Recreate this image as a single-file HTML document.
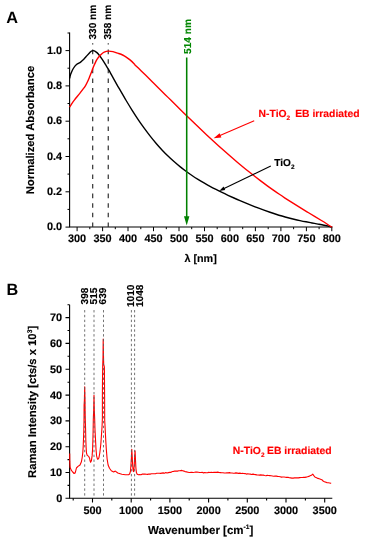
<!DOCTYPE html>
<html lang="en"><head><meta charset="utf-8"><title>Figure</title>
<style>html,body{margin:0;padding:0;background:#fff}body{width:371px;height:550px;overflow:hidden}</style></head>
<body>
<svg width="371" height="550" viewBox="0 0 371 550" style="display:block">
<rect width="371" height="550" fill="#fff"/>
<style>text{stroke-width:.14px;stroke:#000;fill:#000}text.r{fill:#f00;stroke:#f00}text.g{fill:#008600;stroke:#008600}</style>
<g font-family="Liberation Sans, Arial, sans-serif" font-weight="bold" font-size="10.9" text-rendering="geometricPrecision">
<text x="6.3" y="23.0" font-size="16.3" style="stroke:none">A</text>
<text x="6.5" y="294.7" font-size="16.3" style="stroke:none">B</text>
<path d="M69.6,32.4V227.05H332.5" fill="none" stroke="#000" stroke-width="1.1"/>
<path d="M65.5,227.1H69.6M67.5,209.4H69.6M65.5,191.8H69.6M67.5,174.1H69.6M65.5,156.5H69.6M67.5,138.8H69.6M65.5,121.2H69.6M67.5,103.5H69.6M65.5,85.9H69.6M67.5,68.2H69.6M65.5,50.6H69.6M67.5,33.0H69.6M77.1,227.05V231.2M89.8,227.05V229.2M102.6,227.05V231.2M115.3,227.05V229.2M128.0,227.05V231.2M140.8,227.05V229.2M153.5,227.05V231.2M166.3,227.05V229.2M179.0,227.05V231.2M191.7,227.05V229.2M204.5,227.05V231.2M217.2,227.05V229.2M229.9,227.05V231.2M242.7,227.05V229.2M255.4,227.05V231.2M268.2,227.05V229.2M280.9,227.05V231.2M293.6,227.05V229.2M306.4,227.05V231.2M319.1,227.05V229.2M331.8,227.05V231.2" stroke="#000" stroke-width="1.0" fill="none"/>
<text x="62.1" y="230.0" text-anchor="end">0.0</text>
<text x="62.1" y="194.8" text-anchor="end">0.2</text>
<text x="62.1" y="159.6" text-anchor="end">0.4</text>
<text x="62.1" y="124.3" text-anchor="end">0.6</text>
<text x="62.1" y="89.1" text-anchor="end">0.8</text>
<text x="62.1" y="53.9" text-anchor="end">1.0</text>
<text x="77.1" y="241.5" text-anchor="middle">300</text>
<text x="102.6" y="241.5" text-anchor="middle">350</text>
<text x="128.0" y="241.5" text-anchor="middle">400</text>
<text x="153.5" y="241.5" text-anchor="middle">450</text>
<text x="179.0" y="241.5" text-anchor="middle">500</text>
<text x="204.5" y="241.5" text-anchor="middle">550</text>
<text x="229.9" y="241.5" text-anchor="middle">600</text>
<text x="255.4" y="241.5" text-anchor="middle">650</text>
<text x="280.9" y="241.5" text-anchor="middle">700</text>
<text x="306.4" y="241.5" text-anchor="middle">750</text>
<text x="331.8" y="241.5" text-anchor="middle">800</text>
<text transform="translate(33.7,130.0) rotate(-90)" text-anchor="middle" font-size="11.28">Normalized Absorbance</text>
<text x="200.6" y="261.8" text-anchor="middle" font-size="10.8">λ [nm]</text>
<path d="M92.7,43.3V227M108.25,43.3V227" stroke="#2a2a2a" stroke-width="1.15" stroke-dasharray="4.55 5.05" stroke-dashoffset="3.3" fill="none"/>
<text transform="translate(96.4,39.6) rotate(-90)" font-size="10.1">330 nm</text>
<text transform="translate(111.4,39.6) rotate(-90)" font-size="10.1">358 nm</text>
<path d="M69.70,78.30C69.78,77.87 69.95,76.60 70.20,75.70C70.45,74.80 70.68,74.10 71.20,72.90C71.72,71.70 72.42,69.90 73.30,68.50C74.18,67.10 75.28,65.57 76.50,64.50C77.72,63.43 79.38,62.97 80.60,62.10C81.82,61.23 82.73,60.38 83.80,59.30C84.87,58.22 85.92,56.82 87.00,55.60C88.08,54.38 89.53,52.77 90.30,52.00C91.07,51.23 91.18,51.23 91.60,51.00C92.02,50.77 92.37,50.63 92.80,50.60C93.23,50.57 93.77,50.65 94.20,50.80C94.63,50.95 94.72,50.97 95.40,51.50C96.08,52.03 97.13,52.63 98.30,54.00C99.47,55.37 101.05,57.68 102.40,59.70C103.75,61.72 105.32,64.35 106.40,66.10C107.48,67.85 108.05,68.73 108.90,70.20C109.75,71.67 110.17,72.50 111.50,74.90C112.83,77.30 115.48,82.09 116.90,84.60C118.32,87.11 118.48,87.36 120.00,89.97C121.52,92.58 124.00,96.91 126.00,100.25C128.00,103.60 130.00,106.88 132.00,110.05C134.00,113.22 136.00,116.30 138.00,119.28C140.00,122.25 142.00,125.13 144.00,127.89C146.00,130.65 148.00,133.31 150.00,135.86C152.00,138.41 154.00,140.86 156.00,143.20C158.00,145.54 160.00,147.77 162.00,149.91C164.00,152.04 166.00,154.08 168.00,156.02C170.00,157.97 172.00,159.82 174.00,161.59C176.00,163.36 178.00,165.04 180.00,166.65C182.00,168.27 184.00,169.79 186.00,171.27C188.00,172.74 190.00,174.14 192.00,175.49C194.00,176.84 196.00,178.12 198.00,179.36C200.00,180.61 202.00,181.80 204.00,182.95C206.00,184.11 208.00,185.22 210.00,186.30C212.00,187.38 214.00,188.42 216.00,189.45C218.00,190.47 220.00,191.46 222.00,192.43C224.00,193.40 226.00,194.34 228.00,195.27C230.00,196.20 232.00,197.11 234.00,198.00C236.00,198.90 238.00,199.77 240.00,200.63C242.00,201.49 244.00,202.33 246.00,203.16C248.00,203.99 250.00,204.80 252.00,205.60C254.00,206.39 256.00,207.17 258.00,207.94C260.00,208.70 262.00,209.44 264.00,210.16C266.00,210.88 268.00,211.58 270.00,212.26C272.00,212.94 274.00,213.60 276.00,214.23C278.00,214.86 280.00,215.46 282.00,216.04C284.00,216.62 286.00,217.18 288.00,217.70C290.00,218.23 292.00,218.73 294.00,219.21C296.00,219.68 298.00,220.13 300.00,220.56C302.00,220.99 304.00,221.40 306.00,221.79C308.00,222.19 310.00,222.56 312.00,222.94C314.00,223.32 316.00,223.68 318.00,224.07C320.00,224.46 322.00,224.84 324.00,225.27C326.00,225.70 328.67,226.33 330.00,226.65C331.33,226.97 331.67,227.09 332.00,227.18" fill="none" stroke="#000" stroke-width="1.4" stroke-linejoin="round"/>
<path d="M69.70,107.10C70.08,106.47 71.12,104.60 72.00,103.30C72.88,102.00 73.73,100.92 75.00,99.30C76.27,97.68 78.27,95.28 79.60,93.60C80.93,91.92 82.03,90.50 83.00,89.20C83.97,87.90 84.65,87.03 85.40,85.80C86.15,84.57 86.82,83.25 87.50,81.80C88.18,80.35 88.92,78.52 89.50,77.10C90.08,75.68 90.52,74.55 91.00,73.30C91.48,72.05 91.90,70.88 92.40,69.60C92.90,68.32 93.42,66.97 94.00,65.60C94.58,64.23 95.32,62.57 95.90,61.40C96.48,60.23 96.92,59.47 97.50,58.60C98.08,57.73 98.72,56.97 99.40,56.20C100.08,55.43 100.80,54.67 101.60,54.00C102.40,53.33 103.10,52.68 104.20,52.20C105.30,51.72 106.75,51.20 108.20,51.10C109.65,51.00 111.30,51.25 112.90,51.60C114.50,51.95 116.18,52.63 117.80,53.20C119.42,53.77 121.20,54.35 122.60,55.00C124.00,55.65 124.97,56.28 126.20,57.10C127.43,57.92 128.65,58.77 130.00,59.90C131.35,61.03 133.47,63.07 134.30,63.90C135.13,64.73 133.88,63.76 135.00,64.90C136.12,66.03 139.00,68.74 141.00,70.69C143.00,72.63 145.00,74.60 147.00,76.56C149.00,78.53 151.00,80.51 153.00,82.49C155.00,84.47 157.00,86.45 159.00,88.44C161.00,90.43 163.00,92.41 165.00,94.40C167.00,96.38 169.00,98.37 171.00,100.35C173.00,102.33 175.00,104.31 177.00,106.28C179.00,108.25 181.00,110.21 183.00,112.17C185.00,114.12 187.00,116.07 189.00,118.01C191.00,119.95 193.00,121.87 195.00,123.79C197.00,125.71 199.00,127.62 201.00,129.51C203.00,131.40 205.00,133.29 207.00,135.15C209.00,137.02 211.00,138.87 213.00,140.71C215.00,142.55 217.00,144.37 219.00,146.18C221.00,147.98 223.00,149.77 225.00,151.54C227.00,153.31 229.00,155.06 231.00,156.80C233.00,158.53 235.00,160.24 237.00,161.93C239.00,163.62 241.00,165.30 243.00,166.94C245.00,168.59 247.00,170.22 249.00,171.82C251.00,173.42 253.00,175.00 255.00,176.56C257.00,178.11 259.00,179.64 261.00,181.15C263.00,182.65 265.00,184.14 267.00,185.59C269.00,187.05 271.00,188.48 273.00,189.89C275.00,191.30 277.00,192.68 279.00,194.04C281.00,195.40 283.00,196.73 285.00,198.05C287.00,199.36 289.00,200.65 291.00,201.93C293.00,203.20 295.00,204.46 297.00,205.70C299.00,206.94 301.00,208.16 303.00,209.38C305.00,210.60 307.00,211.80 309.00,213.01C311.00,214.21 313.00,215.41 315.00,216.61C317.00,217.82 319.00,219.03 321.00,220.26C323.00,221.48 325.17,222.83 327.00,223.99C328.83,225.15 331.17,226.69 332.00,227.23" fill="none" stroke="#f00" stroke-width="1.4" stroke-linejoin="round"/>
<path d="M186.7,57.5V219" stroke="#008000" stroke-width="1.55" fill="none"/>
<path d="M186.7,225.4L184.0,216.2H189.4Z" fill="#008000"/>
<text transform="translate(190.8,53.9) rotate(-90)" font-size="10.1" class="g">514 nm</text>
<path d="M254.2,120.8L216.5,136.9" stroke="#f00" stroke-width="1.1" fill="none"/>
<path d="M213.6,138.3L219.6,133.3L221.4,137.5Z" fill="#f00"/>
<path d="M270.8,165.9L222,189.5" stroke="#000" stroke-width="1.1" fill="none"/>
<path d="M219.2,190.9L223.6,186.6L225.2,189.9Z" fill="#000"/>
<text x="258.6" y="117.4" class="r" font-size="10.35">N-TiO<tspan font-size="6.5" dy="2.6">2</tspan><tspan dy="-2.6" dx="5.0">EB irradiated</tspan></text>
<text x="274.3" y="166.4" font-size="10.1">TiO<tspan font-size="6.5" dy="2.6">2</tspan></text>
<path d="M69.6,304.8V498.3H332.3" fill="none" stroke="#000" stroke-width="1.1"/>
<path d="M65.5,498.3H69.6M67.5,485.4H69.6M65.5,472.5H69.6M67.5,459.6H69.6M65.5,446.7H69.6M67.5,433.8H69.6M65.5,420.9H69.6M67.5,408.0H69.6M65.5,395.1H69.6M67.5,382.2H69.6M65.5,369.2H69.6M67.5,356.3H69.6M65.5,343.4H69.6M67.5,330.5H69.6M65.5,317.6H69.6M67.5,304.7H69.6M73.2,498.3V500.4M92.5,498.3V502.4M111.8,498.3V500.4M131.2,498.3V502.4M150.6,498.3V500.4M169.9,498.3V502.4M189.2,498.3V500.4M208.6,498.3V502.4M227.9,498.3V500.4M247.3,498.3V502.4M266.6,498.3V500.4M286.0,498.3V502.4M305.4,498.3V500.4M324.7,498.3V502.4" stroke="#000" stroke-width="1.1" fill="none"/>
<text x="62.2" y="501.7" text-anchor="end">0</text>
<text x="62.2" y="475.9" text-anchor="end">10</text>
<text x="62.2" y="450.1" text-anchor="end">20</text>
<text x="62.2" y="424.3" text-anchor="end">30</text>
<text x="62.2" y="398.5" text-anchor="end">40</text>
<text x="62.2" y="372.6" text-anchor="end">50</text>
<text x="62.2" y="346.8" text-anchor="end">60</text>
<text x="62.2" y="321.0" text-anchor="end">70</text>
<text x="92.5" y="513.7" text-anchor="middle">500</text>
<text x="131.2" y="513.7" text-anchor="middle">1000</text>
<text x="169.9" y="513.7" text-anchor="middle">1500</text>
<text x="208.6" y="513.7" text-anchor="middle">2000</text>
<text x="247.3" y="513.7" text-anchor="middle">2500</text>
<text x="286.0" y="513.7" text-anchor="middle">3000</text>
<text x="324.7" y="513.7" text-anchor="middle">3500</text>
<text transform="translate(36.3,478.0) rotate(-90)" font-size="11.28">Raman Intensity [cts/s x 10<tspan font-size="6.8" dy="-4.2">3</tspan><tspan dy="4.2">]</tspan></text>
<text x="148.1" y="534.2" font-size="11.5">Wavenumber [cm<tspan font-size="6.6" dy="-5.4">-1</tspan><tspan dy="5.4">]</tspan></text>
<text transform="translate(87.7,304.4) rotate(-90)" font-size="10.1">398</text>
<text transform="translate(96.8,304.4) rotate(-90)" font-size="10.1">515</text>
<text transform="translate(106.3,304.4) rotate(-90)" font-size="10.1">639</text>
<text transform="translate(133.6,307.0) rotate(-90)" font-size="10.1">1010</text>
<text transform="translate(142.5,307.0) rotate(-90)" font-size="10.1">1048</text>
<polyline points="69.7,453.6 69.8,461.4 70.1,467.2 71.2,470.1 72.7,472.0 74.1,473.5 75.1,473.0 75.8,470.6 76.4,468.0 78.0,466.4 80.0,465.0 81.4,461.8 82.2,457.5 82.8,452.6 83.2,446.5 83.5,439.0 83.8,429.7 84.0,420.0 84.1,405.0 84.4,400.0 84.7,386.8 85.0,400.0 85.1,410.0 85.3,420.0 85.6,429.7 85.8,439.4 86.1,447.2 86.5,453.0 87.2,455.4 88.7,456.4 89.5,457.9 90.1,460.8 90.6,462.2 91.4,460.8 92.1,455.9 92.6,449.1 92.9,439.4 93.1,431.7 93.3,420.0 93.4,417.0 93.7,410.0 94.0,395.3 94.3,410.0 94.6,417.0 94.7,420.0 95.0,429.7 95.5,439.4 96.0,449.1 96.6,455.9 97.4,458.8 97.9,459.3 98.9,457.9 99.8,453.0 100.8,444.3 101.5,434.6 102.1,425.8 102.4,418.0 102.4,396.0 102.5,380.0 102.7,366.0 103.0,357.0 103.2,339.0 103.5,357.0 103.7,364.0 104.4,367.0 104.6,396.0 104.7,420.0 105.2,429.7 105.7,439.4 106.3,449.1 107.1,458.8 108.1,465.0 109.5,468.2 111.3,470.7 113.7,471.9 115.3,471.1 117.8,473.0 121.8,474.3 125.4,474.8 128.6,474.7 129.6,474.0 130.4,471.5 130.9,466.0 131.4,458.0 131.8,449.2 132.3,458.0 132.7,466.0 133.1,470.5 133.5,471.6 133.9,470.0 134.3,464.0 134.7,456.0 135.1,450.9 135.5,460.0 135.9,468.0 136.4,472.5 137.2,474.3 138.5,474.8 139.8,474.6 141.1,474.7 142.4,474.1 143.7,474.1 145.0,474.1 146.3,474.2 147.6,474.4 148.9,474.0 150.2,474.1 151.5,473.8 152.8,473.7 154.1,473.7 155.4,473.8 156.7,473.3 158.0,473.2 159.3,473.3 160.6,473.4 161.9,473.1 163.2,472.9 164.5,473.2 165.8,472.6 167.1,473.0 168.4,472.6 169.7,472.4 171.0,472.4 172.3,471.5 173.6,471.4 174.9,471.0 176.2,471.1 177.5,471.1 178.8,470.8 180.1,470.8 181.4,470.4 182.7,470.7 184.0,471.1 185.3,471.7 186.6,471.9 187.9,472.2 189.2,472.5 190.5,472.4 191.8,472.2 193.1,472.5 194.4,472.3 195.7,472.0 197.0,472.1 198.3,472.2 199.6,472.5 200.9,472.5 202.2,472.3 203.5,472.9 204.8,472.5 206.1,472.7 207.4,472.8 208.7,472.4 210.0,472.5 211.3,472.2 212.6,472.5 213.9,472.4 215.2,472.3 216.5,472.4 217.8,472.1 219.1,472.5 220.4,472.6 221.7,472.8 223.0,472.7 224.3,473.0 225.6,473.0 226.9,472.8 228.2,472.9 229.5,472.6 230.8,473.0 232.1,473.0 233.4,473.2 234.7,473.1 236.0,472.9 237.3,473.1 238.6,473.4 239.9,473.1 241.2,473.5 242.5,473.4 243.8,473.5 245.1,473.6 246.4,474.1 247.7,473.8 249.0,474.0 250.3,474.1 251.6,474.5 252.9,474.1 254.2,474.4 255.5,474.6 256.8,474.9 258.1,475.0 259.4,475.1 260.7,474.9 262.0,475.1 263.3,475.1 264.6,475.5 265.9,475.7 267.2,475.4 268.5,475.5 269.8,475.6 271.1,475.8 272.4,476.0 273.7,476.2 275.0,476.1 276.3,476.1 277.6,476.4 278.9,476.5 280.2,476.7 281.5,477.1 282.8,477.0 284.1,477.0 285.4,477.2 286.7,477.4 288.0,477.2 289.3,477.8 290.6,477.9 291.9,478.1 293.2,478.1 294.5,477.9 295.8,477.9 297.1,477.7 298.4,477.9 299.7,477.6 301.0,477.5 302.3,477.5 303.6,477.4 304.9,477.4 306.2,477.1 307.5,476.8 308.8,476.4 310.1,475.8 311.4,475.3 312.7,474.2 314.0,475.9 315.3,477.3 316.6,477.7 317.9,478.4 319.2,478.8 320.5,479.2 321.8,479.7 323.1,481.0 324.4,481.8 325.7,482.1 327.0,482.7 328.3,482.8 329.6,483.0 330.9,483.3 331.1,483.4" fill="none" stroke="#f00" stroke-width="1.1" stroke-linejoin="round"/>
<path d="M84.7,310.05V498M94.0,310.05V498M103.5,310.05V498M131.4,310.05V498M134.6,310.05V498" stroke="#5a5a5a" stroke-width="0.85" stroke-dasharray="2.4 2.42" fill="none"/>
<text x="232.8" y="453.9" class="r" font-size="10.4">N-TiO<tspan font-size="6.5" dy="2.6">2</tspan><tspan dy="-2.6" dx="2.5">EB irradiated</tspan></text>
</g></svg>
</body></html>
